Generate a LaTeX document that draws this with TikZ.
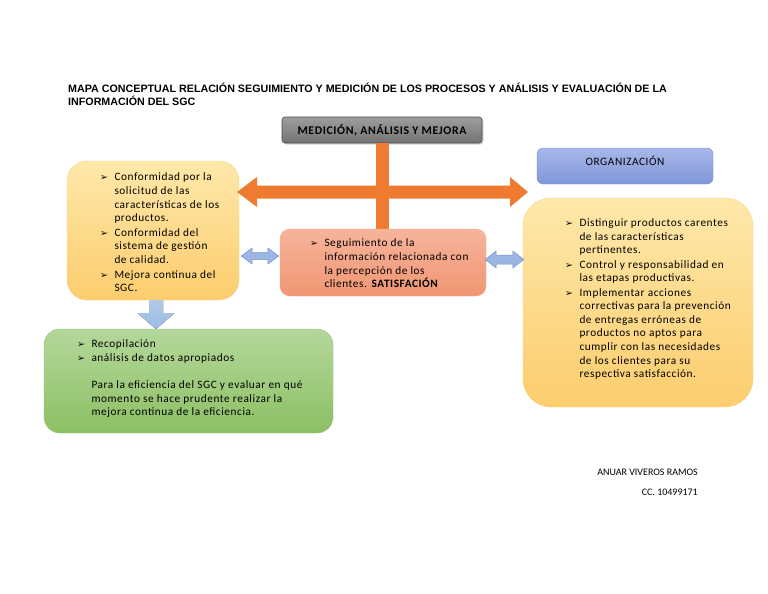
\documentclass[tikz,border=0pt]{standalone}
\usepackage{fontspec}
\setmainfont{Carlito}[LetterSpace=5]
\newfontfamily\plainfont{Carlito}
\newfontfamily\titlefont{Liberation Sans}
\newfontfamily\symfont{DejaVu Sans}
\usetikzlibrary{shadows,calc}
\definecolor{orangeA}{HTML}{EE7B30}
\definecolor{arrowblue}{HTML}{9DB5E2}
\definecolor{arrowblueline}{HTML}{7393CC}
\definecolor{downblue}{HTML}{9CBCE3}
\newcommand{\bitem}[1]{\makebox[14.5pt][l]{\symfont\fontsize{9.5}{9}\selectfont ➢}\begin{tabular}[t]{@{}l@{}}#1\end{tabular}}
\tikzset{
  box/.style={draw=none, inner sep=0pt},
  txt/.style={align=left, inner sep=0pt, font=\fontsize{11.3}{13.6}\selectfont, text=black},
}
\begin{document}
\begin{tikzpicture}[x=1pt,y=-1pt]
\path[use as bounding box, fill=white] (0,0) rectangle (768,594);
% title
\node[anchor=north west, inner sep=0pt, align=left, font=\titlefont\bfseries\fontsize{10.7}{12.5}\selectfont] (title) at (68,83)
  {MAPA CONCEPTUAL RELACIÓN SEGUIMIENTO Y MEDICIÓN DE LOS PROCESOS Y ANÁLISIS Y EVALUACIÓN DE LA\\INFORMACIÓN DEL SGC};
% boxes
\node[box, minimum width=200pt, minimum height=26pt, rounded corners=3pt, top color=black!38, bottom color=black!55, draw=black!70, line width=0.6pt, drop shadow={shadow xshift=1.5pt, shadow yshift=-1.5pt, opacity=0.35}, font=\bfseries\fontsize{11.8}{13}\selectfont] (mej) at (382,130) {MEDICIÓN, ANÁLISIS Y MEJORA};
% orange bar
\fill[orangeA] ($(mej.south)+(-6,0)$) rectangle (389,232);
\node[box, minimum width=172pt, minimum height=139pt, rounded corners=20pt, top color={rgb,255:red,254;green,232;blue,170}, bottom color={rgb,255:red,252;green,205;blue,110}, draw={rgb,255:red,250;green,210;blue,140}] (lbox) at (153,230.5) {};
\node[box, minimum width=206pt, minimum height=67pt, rounded corners=10pt, top color={rgb,255:red,247;green,180;blue,155}, bottom color={rgb,255:red,240;green,150;blue,115}, draw={rgb,255:red,236;green,170;blue,140}] (cbox) at (383,262.5) {};
\node[box, minimum width=176pt, minimum height=36pt, rounded corners=6pt, top color={rgb,255:red,168;green,184;blue,234}, bottom color={rgb,255:red,128;green,150;blue,216}, draw={rgb,255:red,120;green,140;blue,205}] (org) at (625,166) {};
\node[box, minimum width=230pt, minimum height=209pt, rounded corners=28pt, top color={rgb,255:red,254;green,232;blue,170}, bottom color={rgb,255:red,252;green,205;blue,110}, draw={rgb,255:red,250;green,210;blue,140}] (rbox) at (638,302.5) {};
\node[box, minimum width=289pt, minimum height=104pt, rounded corners=16pt, top color={rgb,255:red,180;green,215;blue,155}, bottom color={rgb,255:red,140;green,192;blue,100}, draw={rgb,255:red,150;green,195;blue,120}] (gbox) at (188.5,381) {};
% texts
\node[txt, anchor=north] (orgt) at ($(org.north)+(0,8)$) {ORGANIZACIÓN};
\node[txt, anchor=west] (ltxt) at ($(lbox.west)+(33,3)$) {%
\bitem{Conformidad por la\\solicitud de las\\características de los\\productos.}\\
\bitem{Conformidad del\\sistema de gestión\\de calidad.}\\
\bitem{Mejora continua del\\SGC.}};
\node[txt, anchor=west] (ctxt) at ($(cbox.west)+(30,2)$) {%
\bitem{Seguimiento de la\\información relacionada con\\la percepción de los\\clientes. \textbf{SATISFACIÓN}}};
\node[txt, anchor=west] (rtxt) at ($(rbox.west)+(42,-3)$) {%
\bitem{Distinguir productos carentes\\de las características\\pertinentes.}\\[-0.3pt]
\bitem{Control y responsabilidad en\\las etapas productivas.}\\[-0.3pt]
\bitem{Implementar acciones\\correctivas para la prevención\\de entregas erróneas de\\productos no aptos para\\cumplir con las necesidades\\de los clientes para su\\respectiva satisfacción.}};
\node[txt, anchor=west] (gtxt) at ($(gbox.west)+(33,-3)$) {%
\bitem{Recopilación}\\
\bitem{análisis de datos apropiados}\\[13.6pt]
\hspace*{14.5pt}Para la eficiencia del SGC y evaluar en qué\\\hspace*{14.5pt}momento se hace prudente realizar la\\\hspace*{14.5pt}mejora continua de la eficiencia.};
% horizontal orange double arrow
\fill[orangeA] (237,192) -- (257,177) -- (257,185.5) -- (510,185.5) -- (510,177) -- (528,192) -- (510,207) -- (510,198.5) -- (257,198.5) -- (257,207) -- cycle;
% small blue double arrows
\coordinate (la1) at ($(lbox.east|-0,256)+(2,0)$);
\coordinate (la2) at ($(cbox.west|-0,256)+(-1,0)$);
\filldraw[fill=arrowblue, draw=arrowblueline, line width=0.5pt] (la1) -- ++(11,-8) -- ++(0,4.5) -- ($(la2)+(-11,-3.5)$) -- ++(0,-4.5) -- (la2) -- ++(-11,8) -- ++(0,-4.5) -- ($(la1)+(11,3.5)$) -- ++(0,4.5) -- cycle;
\coordinate (ra1) at ($(cbox.east|-0,259.5)+(-1,0)$);
\coordinate (ra2) at ($(rbox.west|-0,259.5)+(1,0)$);
\filldraw[fill=arrowblue, draw=arrowblueline, line width=0.5pt] (ra1) -- ++(11,-8.5) -- ++(0,4) -- ($(ra2)+(-11,-4.5)$) -- ++(0,-4) -- (ra2) -- ++(-11,8.5) -- ++(0,-4) -- ($(ra1)+(11,4.5)$) -- ++(0,4) -- cycle;
% down arrow
\coordinate (d1) at (156,300);
\coordinate (d2) at (156,329);
\fill[top color=downblue!80!white, bottom color=downblue] ($(d1)+(-7,0)$) -- ($(d1)+(7,0)$) -- ($(d2)+(7,-16)$) -- ($(d2)+(18.5,-16)$) -- (d2) -- ($(d2)+(-18.5,-16)$) -- ($(d2)+(-7,-16)$) -- cycle;
% author
\node[txt, anchor=north east, align=right, font=\plainfont\fontsize{10}{20}\selectfont] (auth) at (698,469) {ANUAR VIVEROS RAMOS\\CC. 10499171};
\end{tikzpicture}
\end{document}
